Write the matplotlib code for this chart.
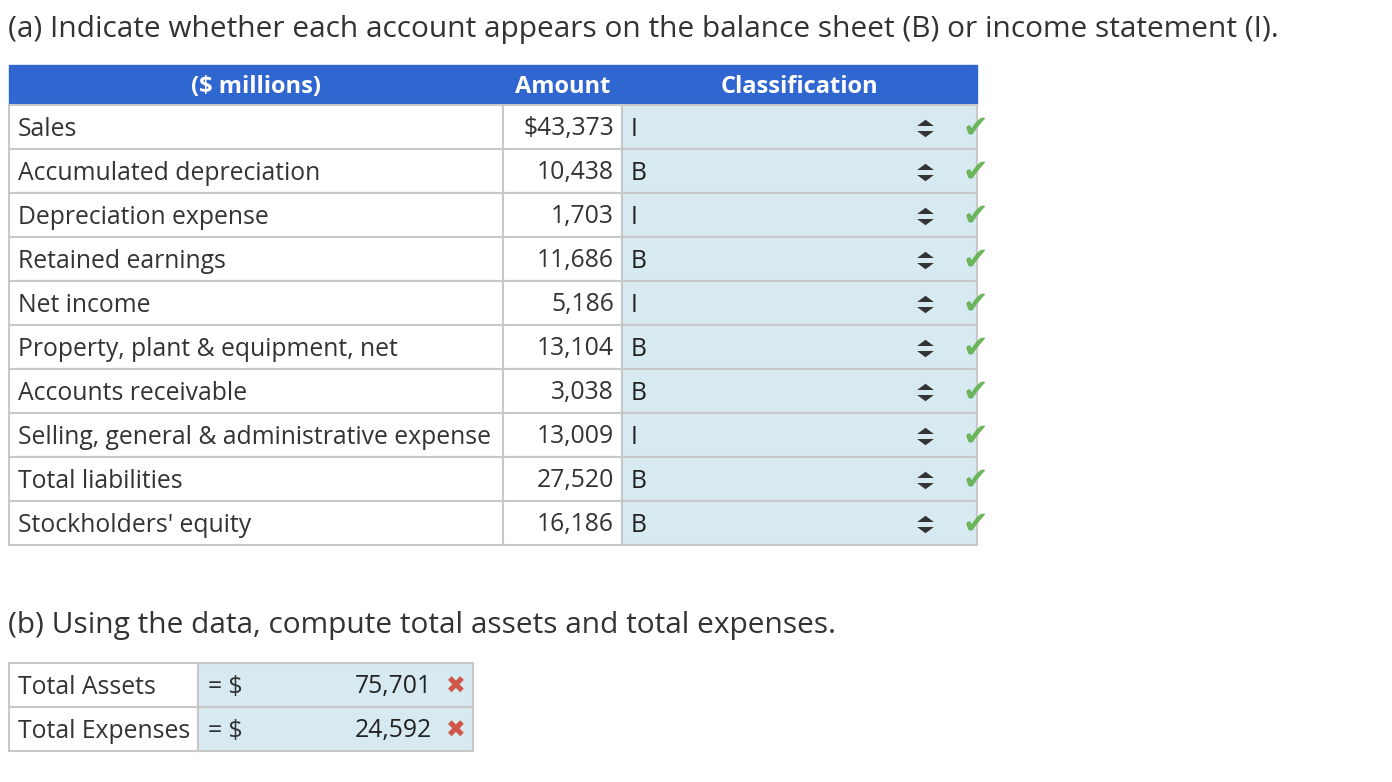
import matplotlib.pyplot as plt
from matplotlib.patches import Rectangle

accounts = ["Sales", "Accumulated depreciation", "Depreciation expense", "Retained earnings",
            "Net income", "Property, plant & equipment, net", "Accounts receivable",
            "Selling, general & administrative expense", "Total liabilities", "Stockholders' equity"]
amounts = ["$43,373", "10,438", "1,703", "11,686", "5,186", "13,104", "3,038", "13,009", "27,520", "16,186"]
classes = ["I", "B", "I", "B", "I", "B", "B", "I", "B", "B"]
totals_labels = ["Total Assets", "Total Expenses"]
totals_values = ["75,701", "24,592"]

W, H = 1392, 782
fig = plt.figure(figsize=(W / 100, H / 100), dpi=100)
ax = fig.add_axes([0, 0, 1, 1])
ax.set_xlim(0, W)
ax.set_ylim(H, 0)
ax.axis("off")
plt.rcParams["font.family"] = ["Open Sans", "DejaVu Sans"]

txt = "#333333"
grid = "#C8C8C8"
blue = "#2F66D0"
cell = "#D7E9F1"
fs = 17.8

# wide flat triangles for the select arrows (marker paths use screen y-up)
up_tri = [(-1, -0.3), (1, -0.3), (0, 0.45), (-1, -0.3)]
down_tri = [(-1, 0.3), (1, 0.3), (0, -0.45), (-1, 0.3)]

ax.text(8, 30, "(a) Indicate whether each account appears on the balance sheet (B) or income statement (I).",
        fontsize=21.5, color=txt, va="center")

# header
x0, x1, x2, x3 = 9, 503, 622, 977
top, rh = 65, 44
ax.add_patch(Rectangle((x0, top), x3 - x0, 40, color=blue))
for xc, lab in [((x0 + x1) / 2, "($ millions)"), ((x1 + x2) / 2, "Amount"), ((x2 + x3) / 2, "Classification")]:
    ax.text(xc, top + 22, lab, fontsize=17, color="white", fontweight="bold", ha="center", va="center")

y = top + 40
for i, (acc, amt, cl) in enumerate(zip(accounts, amounts, classes)):
    yr = y + i * rh
    ax.add_patch(Rectangle((x0, yr), x2 - x0, rh, facecolor="white", edgecolor=grid, lw=1.5))
    ax.add_patch(Rectangle((x2, yr), x3 - x2, rh, facecolor=cell, edgecolor=grid, lw=1.5))
    ax.plot([x1, x1], [yr, yr + rh], color=grid, lw=1.5)
    yc = yr + rh / 2 + 2
    ax.text(18, yc, acc, fontsize=fs, color=txt, va="center")
    ax.text(614, yc, amt, fontsize=fs, color=txt, va="center", ha="right")
    ax.text(631, yc, cl, fontsize=fs, color="#222222", va="center")
    ax.plot([925], [yc - 6], marker=up_tri, color="#333333", ms=12, markeredgewidth=0)
    ax.plot([925], [yc + 4], marker=down_tri, color="#333333", ms=12, markeredgewidth=0)
    ax.text(975, yc - 1, "\u2714", fontsize=22, color="#6AB55B", va="center", ha="center",
            family=["DejaVu Sans"])

ax.text(8, 626, "(b) Using the data, compute total assets and total expenses.",
        fontsize=21.5, color=txt, va="center")

bx0, bx1, bx2 = 9, 198, 473
btop = 663
for i, (lab, val) in enumerate(zip(totals_labels, totals_values)):
    yr = btop + i * rh
    ax.add_patch(Rectangle((bx0, yr), bx1 - bx0, rh, facecolor="white", edgecolor=grid, lw=1.5))
    ax.add_patch(Rectangle((bx1, yr), bx2 - bx1, rh, facecolor=cell, edgecolor=grid, lw=1.5))
    yc = yr + rh / 2 + 2
    ax.text(18, yc, lab, fontsize=fs, color=txt, va="center")
    ax.text(208, yc, "= $", fontsize=fs, color=txt, va="center")
    ax.text(432, yc, val, fontsize=fs, color="#222222", va="center", ha="right")
    ax.text(456, yc, "\u2716", fontsize=17, color="#D0564A", va="center", ha="center",
            family=["DejaVu Sans"])

fig.savefig("out.png", dpi=100)
